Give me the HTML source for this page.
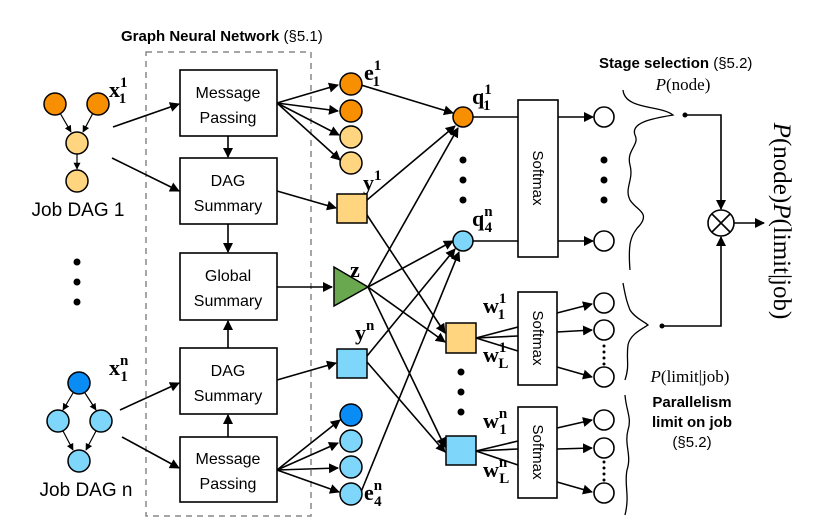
<!DOCTYPE html>
<html><head><meta charset="utf-8"><style>
body{margin:0;background:#fff}
svg{display:block}
.s{font-family:"Liberation Sans",sans-serif}
.b{font-family:"Liberation Sans",sans-serif;font-weight:bold}
.m{font-family:"Liberation Serif",serif;font-weight:bold}
.i{font-family:"Liberation Serif",serif}
</style></head><body>
<svg width="816" height="528" viewBox="0 0 816 528" xmlns="http://www.w3.org/2000/svg">
<defs>
<marker id="a" viewBox="0 0 10 10" refX="9" refY="5" markerWidth="7" markerHeight="7" orient="auto-start-reverse" markerUnits="userSpaceOnUse"><path d="M0,0L10,5L0,10z" fill="#000"/></marker>
<marker id="a2" viewBox="0 0 10 10" refX="9" refY="5" markerWidth="10" markerHeight="10" orient="auto" markerUnits="userSpaceOnUse"><path d="M0,0L10,5L0,10z" fill="#000"/></marker>
</defs>
<g stroke="#000" stroke-width="1.6" fill="none">
<rect x="146" y="52" width="165" height="464" stroke="#888" stroke-dasharray="6,5" stroke-width="1.5"/>
<line x1="60" y1="113" x2="71" y2="132" marker-end="url(#a)" stroke-width="1.2"/>
<line x1="93" y1="113" x2="83" y2="132" marker-end="url(#a)" stroke-width="1.2"/>
<line x1="77" y1="154" x2="77" y2="169" marker-end="url(#a)" stroke-width="1.2"/>
<line x1="73" y1="393" x2="63" y2="410" marker-end="url(#a)" stroke-width="1.2"/>
<line x1="85" y1="393" x2="96" y2="410" marker-end="url(#a)" stroke-width="1.2"/>
<line x1="63" y1="431" x2="73" y2="450" marker-end="url(#a)" stroke-width="1.2"/>
<line x1="96" y1="431" x2="86" y2="450" marker-end="url(#a)" stroke-width="1.2"/>
<line x1="113" y1="127" x2="179" y2="104" marker-end="url(#a2)"/>
<line x1="112" y1="158" x2="179" y2="191" marker-end="url(#a2)"/>
<line x1="120" y1="410" x2="179" y2="383" marker-end="url(#a2)"/>
<line x1="122" y1="437" x2="179" y2="468" marker-end="url(#a2)"/>
<rect x="180" y="70" width="97" height="66" fill="#fff"/>
<rect x="180" y="158" width="97" height="66" fill="#fff"/>
<rect x="180" y="253" width="97" height="67" fill="#fff"/>
<rect x="180" y="348" width="97" height="66" fill="#fff"/>
<rect x="180" y="437" width="97" height="65" fill="#fff"/>
<line x1="228" y1="136" x2="228" y2="157" marker-end="url(#a2)"/>
<line x1="228" y1="224" x2="228" y2="252" marker-end="url(#a2)"/>
<line x1="228" y1="348" x2="228" y2="321" marker-end="url(#a2)"/>
<line x1="228" y1="437" x2="228" y2="415" marker-end="url(#a2)"/>
<line x1="277" y1="103" x2="338" y2="85" marker-end="url(#a2)"/>
<line x1="277" y1="103" x2="338" y2="111" marker-end="url(#a2)"/>
<line x1="277" y1="103" x2="339" y2="135" marker-end="url(#a2)"/>
<line x1="277" y1="103" x2="340" y2="160" marker-end="url(#a2)"/>
<line x1="277" y1="470" x2="340" y2="420" marker-end="url(#a2)"/>
<line x1="277" y1="470" x2="338" y2="443" marker-end="url(#a2)"/>
<line x1="277" y1="470" x2="338" y2="468" marker-end="url(#a2)"/>
<line x1="277" y1="470" x2="339" y2="492" marker-end="url(#a2)"/>
<line x1="277" y1="191" x2="336" y2="208" marker-end="url(#a2)"/>
<line x1="277" y1="287" x2="332" y2="287" marker-end="url(#a2)"/>
<line x1="277" y1="380" x2="336" y2="363" marker-end="url(#a2)"/>
<line x1="361" y1="85" x2="453" y2="113" marker-end="url(#a2)"/>
<line x1="367" y1="200" x2="455" y2="126" marker-end="url(#a2)"/>
<line x1="368" y1="287" x2="458" y2="128" marker-end="url(#a2)"/>
<line x1="367" y1="215" x2="445" y2="333" marker-end="url(#a2)"/>
<line x1="368" y1="287" x2="453" y2="241" marker-end="url(#a2)"/>
<line x1="368" y1="287" x2="445" y2="342" marker-end="url(#a2)"/>
<line x1="368" y1="287" x2="445" y2="447" marker-end="url(#a2)"/>
<line x1="367" y1="356" x2="455" y2="249" marker-end="url(#a2)"/>
<line x1="367" y1="362" x2="445" y2="452" marker-end="url(#a2)"/>
<line x1="361" y1="492" x2="459" y2="252" marker-end="url(#a2)"/>
<line x1="473" y1="117" x2="518" y2="117"/>
<line x1="473" y1="241" x2="518" y2="241"/>
<rect x="518" y="100" width="40" height="157" fill="#fff"/>
<line x1="558" y1="117" x2="593" y2="117" marker-end="url(#a2)"/>
<line x1="558" y1="241" x2="593" y2="241" marker-end="url(#a2)"/>
<circle cx="604" cy="117" r="10" fill="#fff"/>
<circle cx="604" cy="241" r="10" fill="#fff"/>
<line x1="476" y1="338" x2="518" y2="327"/><line x1="476" y1="338" x2="518" y2="336"/><line x1="476" y1="338" x2="518" y2="351"/>
<rect x="518" y="292" width="39" height="93" fill="#fff"/>
<line x1="557" y1="313" x2="592" y2="304" marker-end="url(#a2)"/>
<line x1="557" y1="332" x2="592" y2="330" marker-end="url(#a2)"/>
<line x1="557" y1="367" x2="592" y2="377" marker-end="url(#a2)"/>
<circle cx="604" cy="303" r="10" fill="#fff"/><circle cx="604" cy="330" r="10" fill="#fff"/><circle cx="604" cy="377" r="10" fill="#fff"/>
<line x1="476" y1="451" x2="518" y2="441"/><line x1="476" y1="451" x2="518" y2="449"/><line x1="476" y1="451" x2="518" y2="465"/>
<rect x="518" y="407" width="39" height="91" fill="#fff"/>
<line x1="557" y1="428" x2="592" y2="420" marker-end="url(#a2)"/>
<line x1="557" y1="449" x2="592" y2="448" marker-end="url(#a2)"/>
<line x1="557" y1="482" x2="592" y2="492" marker-end="url(#a2)"/>
<circle cx="604" cy="420" r="10" fill="#fff"/><circle cx="604" cy="448" r="10" fill="#fff"/><circle cx="604" cy="493" r="10" fill="#fff"/>
<path d="M623,90 C625,110 660,105 673,115 C655,118 630,122 635,135 C640,145 626,150 630,165 C634,180 624,188 630,200 C636,210 650,212 640,225 C630,235 628,245 630,270" stroke-width="1.3"/>
<path d="M623,283 C626,300 628,305 630,310 C635,318 645,322 648,325 C640,330 630,335 628,345 C626,360 630,365 625,380 M625,395 C626,410 632,418 628,430 C624,445 632,455 627,470 C624,485 630,495 625,515" stroke-width="1.3"/>
<polyline points="685,115 721,115 721,209" marker-end="url(#a2)"/>
<polyline points="662,326 721,326 721,237" marker-end="url(#a2)"/>
<circle cx="721" cy="223" r="13" fill="#fff"/>
<line x1="712" y1="214" x2="730" y2="232"/><line x1="730" y1="214" x2="712" y2="232"/>
<line x1="734" y1="223" x2="764" y2="223" marker-end="url(#a2)"/>
</g>
<g fill="#000"><circle cx="685" cy="115" r="2.5"/><circle cx="662" cy="326" r="2.5"/>
<circle cx="77" cy="262" r="3.5"/><circle cx="77" cy="282" r="3.5"/><circle cx="77" cy="302" r="3.5"/>
<circle cx="463" cy="160" r="3.5"/><circle cx="463" cy="180" r="3.5"/><circle cx="463" cy="200" r="3.5"/>
<circle cx="604" cy="160" r="3.5"/><circle cx="604" cy="180" r="3.5"/><circle cx="604" cy="200" r="3.5"/>
<circle cx="461" cy="372" r="3.5"/><circle cx="461" cy="392" r="3.5"/><circle cx="461" cy="412" r="3.5"/>
<circle cx="604" cy="346" r="1.5"/><circle cx="604" cy="352" r="1.5"/><circle cx="604" cy="358" r="1.5"/><circle cx="604" cy="364" r="1.5"/>
<circle cx="604" cy="462" r="1.5"/><circle cx="604" cy="468" r="1.5"/><circle cx="604" cy="474" r="1.5"/><circle cx="604" cy="480" r="1.5"/>
</g>
<g stroke="#000" stroke-width="1.5">
<circle cx="55" cy="104" r="11" fill="#f78f00"/><circle cx="98" cy="104" r="11" fill="#f78f00"/>
<circle cx="77" cy="143" r="11" fill="#ffd580"/><circle cx="77" cy="181" r="11" fill="#ffd580"/>
<circle cx="79" cy="383" r="11" fill="#0a8cf5"/><circle cx="58" cy="421" r="11" fill="#7fd6fb"/><circle cx="101" cy="421" r="11" fill="#7fd6fb"/><circle cx="79" cy="461" r="11" fill="#7fd6fb"/>
<circle cx="351" cy="84" r="11" fill="#f78f00"/><circle cx="351" cy="111" r="11" fill="#f78f00"/><circle cx="351" cy="137" r="11" fill="#ffd580"/><circle cx="351" cy="163" r="11" fill="#ffd580"/>
<circle cx="351" cy="415" r="11" fill="#0a8cf5"/><circle cx="351" cy="441" r="11" fill="#7fd6fb"/><circle cx="351" cy="467" r="11" fill="#7fd6fb"/><circle cx="351" cy="494" r="11" fill="#7fd6fb"/>
<rect x="337" y="194" width="30" height="29" fill="#ffd580"/>
<rect x="337" y="349" width="30" height="29" fill="#7fd6fb"/>
<polygon points="334,267 334,306 368,287" fill="#6aa84f"/>
<circle cx="463" cy="117" r="10" fill="#f78f00"/>
<circle cx="463" cy="241" r="10" fill="#7fd6fb"/>
<rect x="446" y="323" width="30" height="30" fill="#ffd580"/>
<rect x="446" y="436" width="30" height="29" fill="#7fd6fb"/>
</g>
<g class="s" font-size="16" text-anchor="middle" fill="#000">
<text x="228" y="98">Message</text><text x="228" y="123">Passing</text>
<text x="228" y="186">DAG</text><text x="228" y="211">Summary</text>
<text x="228" y="281">Global</text><text x="228" y="306">Summary</text>
<text x="228" y="376">DAG</text><text x="228" y="401">Summary</text>
<text x="228" y="464">Message</text><text x="228" y="489">Passing</text>
</g>
<g class="s" font-size="15" text-anchor="middle" fill="#000">
<text x="0" y="0" transform="translate(533,178) rotate(90)">Softmax</text>
<text x="0" y="0" transform="translate(533,338) rotate(90)">Softmax</text>
<text x="0" y="0" transform="translate(533,452) rotate(90)">Softmax</text>
</g>
<g class="s" font-size="19" text-anchor="middle"><text x="78" y="216">Job DAG 1</text><text x="86" y="496">Job DAG n</text></g>
<text class="b" x="121" y="41" font-size="15">Graph Neural Network <tspan font-weight="normal">(§5.1)</tspan></text>
<text class="b" x="599" y="68" font-size="15">Stage selection <tspan font-weight="normal">(§5.2)</tspan></text>
<text class="i" x="683" y="90" font-size="17" text-anchor="middle"><tspan font-style="italic">P</tspan>(node)</text>
<text class="i" x="690" y="382" font-size="17" text-anchor="middle"><tspan font-style="italic">P</tspan>(limit|job)</text>
<g class="b" font-size="15" text-anchor="middle"><text x="692" y="407">Parallelism</text><text x="692" y="427">limit on job</text><text x="692" y="447" font-weight="normal">(§5.2)</text></g>
<text class="i" font-size="25" text-anchor="middle" transform="translate(774,221) rotate(90)"><tspan font-style="italic">P</tspan>(node)<tspan font-style="italic">P</tspan>(limit|job)</text>
<g class="m" font-size="22">
<text x="109" y="97">x<tspan font-size="15" dy="-10">1</tspan><tspan font-size="15" dx="-8" dy="16">1</tspan></text>
<text x="109" y="375">x<tspan font-size="15" dy="-10">n</tspan><tspan font-size="15" dx="-8" dy="16">1</tspan></text>
<text x="364" y="80">e<tspan font-size="15" dy="-10">1</tspan><tspan font-size="15" dx="-8" dy="16">1</tspan></text>
<text x="364" y="500">e<tspan font-size="15" dy="-10">n</tspan><tspan font-size="15" dx="-8" dy="16">4</tspan></text>
<text x="363" y="190">y<tspan font-size="15" dy="-10">1</tspan></text>
<text x="355" y="340">y<tspan font-size="15" dy="-10">n</tspan></text>
<text x="350" y="277">z</text>
<text x="472" y="104">q<tspan font-size="15" dy="-10">1</tspan><tspan font-size="15" dx="-8" dy="16">1</tspan></text>
<text x="472" y="226">q<tspan font-size="15" dy="-10">n</tspan><tspan font-size="15" dx="-8" dy="16">4</tspan></text>
<text x="483" y="313">w<tspan font-size="15" dy="-10">1</tspan><tspan font-size="15" dx="-8" dy="16">1</tspan></text>
<text x="483" y="362">w<tspan font-size="15" dy="-10">1</tspan><tspan font-size="15" dx="-8" dy="16">L</tspan></text>
<text x="483" y="428">w<tspan font-size="15" dy="-10">n</tspan><tspan font-size="15" dx="-8" dy="16">1</tspan></text>
<text x="483" y="477">w<tspan font-size="15" dy="-10">n</tspan><tspan font-size="15" dx="-8" dy="16">L</tspan></text>
</g>
</svg>
</body></html>
